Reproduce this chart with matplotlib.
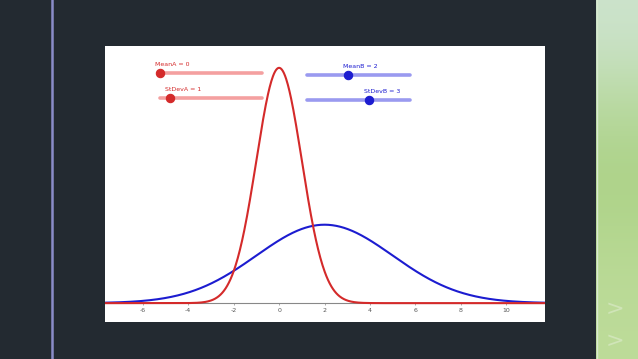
import numpy as np
import matplotlib
matplotlib.use("Agg")
import matplotlib.pyplot as plt
from matplotlib.lines import Line2D

plt.rcParams["axes.unicode_minus"] = False

# slider values shown in the chart
mean_a, sd_a = 0, 1
mean_b, sd_b = 2, 3
# slider ranges (min, max)
range_mean_a = (0, 10)
range_sd_a = (0, 10)
range_mean_b = (-2, 8)
range_sd_b = (0, 5)

x_ticks = [-6, -4, -2, 0, 2, 4, 6, 8, 10]
x_lim = (-7.66, 11.7)
y_lim = (-0.032, 0.436)

W, H = 638, 359
bg = "#232a31"
red = "#d42a2a"
blue = "#1c1cd0"


def fx(px):
    return px / W


def fy(py):
    return 1 - py / H


def normal_pdf(x, mu, sd):
    return np.exp(-0.5 * ((x - mu) / sd) ** 2) / (sd * np.sqrt(2 * np.pi))


fig = plt.figure(figsize=(W / 100, H / 100), dpi=100, facecolor=bg)

# green strip on the right
gax = fig.add_axes([fx(596), 0, fx(42), 1])
grad = np.array([[0.80, 0.89, 0.80], [0.72, 0.85, 0.62], [0.67, 0.82, 0.52],
                 [0.72, 0.85, 0.58], [0.74, 0.86, 0.60]])
gax.imshow(grad[:, None, :], aspect="auto", interpolation="bicubic", extent=[0, 1, 0, 1])
gax.axvline(0.02, color="#d8e8d0", lw=1)
for yy in [0.14, 0.05]:
    gax.text(0.45, yy, ">", color="#e4efd8", fontsize=16, ha="center", va="center", alpha=0.5)
gax.set_xlim(0, 1)
gax.set_ylim(0, 1)
gax.axis("off")

# left vertical rule
fig.add_artist(Line2D([fx(51.5), fx(51.5)], [0, 1], color="#8a8cc8", lw=1.8))

ax = fig.add_axes([fx(105), fy(322), fx(440), (322 - 46) / H])
ax.set_facecolor("white")
xs = np.linspace(x_lim[0], x_lim[1], 800)
ax.axhline(0, color="#888888", lw=0.8, zorder=1)
ax.plot(xs, normal_pdf(xs, mean_b, sd_b), color=blue, lw=1.5, zorder=3)
ax.plot(xs, normal_pdf(xs, mean_a, sd_a), color=red, lw=1.5, zorder=3)
ax.set_xlim(x_lim)
ax.set_ylim(y_lim)
for s in ax.spines.values():
    s.set_visible(False)
ax.set_yticks([])
ax.set_xticks(x_ticks)
ax.tick_params(axis="x", length=1.5, width=0.5, color="#888888", labelsize=4.5,
               labelcolor="#555555", pad=2)
ax.xaxis.set_ticks_position("bottom")
ax.spines["bottom"].set_position(("data", 0))


def ax_x(px):
    return (px - 105) / 440


def ax_y(py):
    return (322 - py) / 276


def slider(name, val, rng, x0, x1, y, color, light):
    ax.plot([ax_x(x0), ax_x(x1)], [ax_y(y), ax_y(y)], transform=ax.transAxes,
            color=light, lw=2.6, solid_capstyle="round", zorder=4)
    t = (val - rng[0]) / (rng[1] - rng[0])
    xd = x0 + t * (x1 - x0)
    ax.plot([ax_x(xd)], [ax_y(y)], "o", transform=ax.transAxes, ms=6, color=color,
            mec=color, mew=0.8, zorder=5)
    ax.text(ax_x(xd - 5), ax_y(y - 6), f"{name} = {val}", transform=ax.transAxes,
            fontsize=4.5, color=color, ha="left", va="bottom", zorder=5)


slider("MeanA", mean_a, range_mean_a, 160, 262, 73, red, "#f4a0a0")
slider("StDevA", sd_a, range_sd_a, 160, 262, 98, red, "#f4a0a0")
slider("MeanB", mean_b, range_mean_b, 307, 410, 75, blue, "#9a9af0")
slider("StDevB", sd_b, range_sd_b, 307, 410, 100, blue, "#9a9af0")

fig.savefig("out.png", dpi=100, facecolor=bg)
